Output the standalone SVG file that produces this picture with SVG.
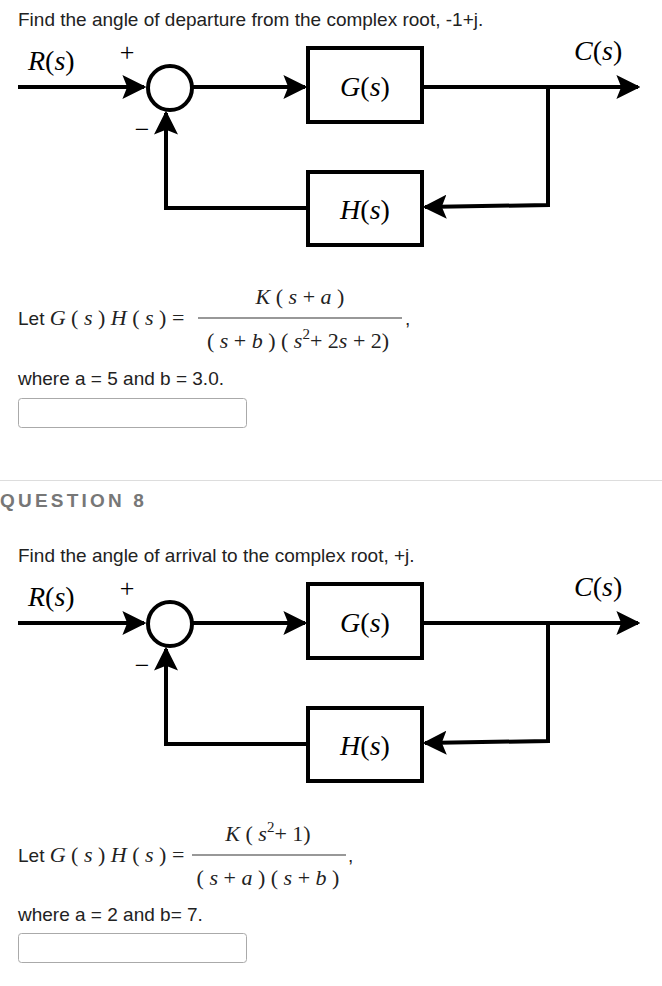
<svg xmlns="http://www.w3.org/2000/svg" width="662" height="986" viewBox="0 0 662 986">
<style>
.t{font-family:"Liberation Sans",Arial,sans-serif;font-size:19px;fill:#222}
.m{font-family:"Liberation Serif","Times New Roman",serif;font-size:22px;fill:#222}
.d{font-family:"Liberation Serif","Times New Roman",serif;font-size:28px;fill:#000}
.p{font-family:"Liberation Serif","Times New Roman",serif;font-size:26px;fill:#000}
.ln{stroke:#000;stroke-width:4;fill:none}
.bx{stroke:#000;stroke-width:4;fill:#fff}
.in{fill:#fff;stroke:#aaa;stroke-width:1}
</style>
<defs>
<marker id="ah" viewBox="0 0 10 10" refX="9" refY="5" markerWidth="6" markerHeight="6" markerUnits="strokeWidth" orient="auto"><path d="M0,0 L10,5 L0,10 L2,5 Z" fill="#000"/></marker>
<g id="diag">
<g id="connectors">
<line class="ln" x1="18" y1="87" x2="144" y2="87" marker-end="url(#ah)"/>
<line class="ln" x1="192" y1="87" x2="305" y2="87" marker-end="url(#ah)"/>
<line class="ln" x1="422" y1="87" x2="638" y2="87" marker-end="url(#ah)"/>
<polyline class="ln" points="548,87 548,205 425,207" marker-end="url(#ah)"/>
<polyline class="ln" points="308,208 166,208 166,113" marker-end="url(#ah)"/>
</g>
<g id="sum"><circle cx="170" cy="88" r="22" class="ln" fill="#fff"/></g>
<g id="G"><rect x="308" y="48" width="114" height="74" class="bx"/><text x="365" y="96" class="d" text-anchor="middle"><tspan font-style="italic">G</tspan>(<tspan font-style="italic">s</tspan>)</text></g>
<g id="H"><rect x="308" y="172" width="114" height="73" class="bx"/><text x="365" y="219" class="d" text-anchor="middle"><tspan font-style="italic">H</tspan>(<tspan font-style="italic">s</tspan>)</text></g>
<text x="28" y="70" class="d"><tspan font-style="italic">R</tspan>(<tspan font-style="italic">s</tspan>)</text>
<text x="574" y="60" class="d"><tspan font-style="italic">C</tspan>(<tspan font-style="italic">s</tspan>)</text>
<text x="127" y="61" class="p" text-anchor="middle">+</text>
<text x="142" y="138" class="p" text-anchor="middle">−</text>
</g>
</defs>
<text x="18" y="26" class="t">Find the angle of departure from the complex root, -1+j.</text>
<use href="#diag"/>
<text x="18" y="325" class="t">Let <tspan class="m" font-style="italic">G</tspan><tspan class="m"> ( </tspan><tspan class="m" font-style="italic">s</tspan><tspan class="m"> ) </tspan><tspan class="m" font-style="italic">H</tspan><tspan class="m"> ( </tspan><tspan class="m" font-style="italic">s</tspan><tspan class="m"> ) =</tspan></text>
<line x1="198" y1="318" x2="402" y2="318" stroke="#333" stroke-width="1.2"/>
<text x="300" y="304" class="m" text-anchor="middle"><tspan font-style="italic">K</tspan> ( <tspan font-style="italic">s</tspan> + <tspan font-style="italic">a</tspan> )</text>
<text x="298" y="348" class="m" text-anchor="middle">( <tspan font-style="italic">s</tspan> + <tspan font-style="italic">b</tspan> ) ( <tspan font-style="italic">s</tspan><tspan font-size="15" dy="-9">2</tspan><tspan dy="9">+ 2</tspan><tspan font-style="italic">s</tspan> + 2)</text>
<text x="405" y="325" class="t">,</text>
<text x="18" y="385" class="t">where a = 5 and b = 3.0.</text>
<rect class="in" x="18.5" y="398.5" width="228" height="29" rx="3"/>
<line x1="0" y1="480.5" x2="662" y2="480.5" stroke="#ddd"/>
<text x="0" y="507" font-family="Liberation Sans,Arial,sans-serif" font-size="19" font-weight="bold" fill="#777" letter-spacing="3.2">QUESTION 8</text>
<text x="18" y="562" class="t">Find the angle of arrival to the complex root, +j.</text>
<use href="#diag" y="536"/>
<text x="18" y="862" class="t">Let <tspan class="m" font-style="italic">G</tspan><tspan class="m"> ( </tspan><tspan class="m" font-style="italic">s</tspan><tspan class="m"> ) </tspan><tspan class="m" font-style="italic">H</tspan><tspan class="m"> ( </tspan><tspan class="m" font-style="italic">s</tspan><tspan class="m"> ) =</tspan></text>
<line x1="192" y1="855" x2="346" y2="855" stroke="#333" stroke-width="1.2"/>
<text x="268" y="841" class="m" text-anchor="middle"><tspan font-style="italic">K</tspan> ( <tspan font-style="italic">s</tspan><tspan font-size="15" dy="-9">2</tspan><tspan dy="9">+ 1)</tspan></text>
<text x="268" y="885" class="m" text-anchor="middle">( <tspan font-style="italic">s</tspan> + <tspan font-style="italic">a</tspan> ) ( <tspan font-style="italic">s</tspan> + <tspan font-style="italic">b</tspan> )</text>
<text x="348" y="862" class="t">,</text>
<text x="18" y="921" class="t">where a = 2 and b= 7.</text>
<rect class="in" x="18.5" y="933.5" width="228" height="29" rx="3"/>
</svg>
